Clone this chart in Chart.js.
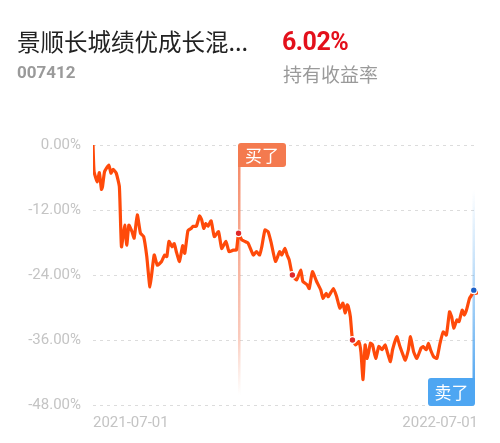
<!DOCTYPE html>
<html>
<head>
<meta charset="utf-8">
<script src="https://cdn.jsdelivr.net/npm/chart.js@4/dist/chart.umd.min.js"></script>
<style>
  html, body { margin: 0; padding: 0; background: #fff; }
  body { width: 500px; height: 443px; position: relative; overflow: hidden; font-family: "Noto Sans CJK SC", "Noto Sans", sans-serif; }
  #wrap { position: absolute; left: 0; top: 0; width: 500px; height: 443px; }
  .t { position: absolute; white-space: nowrap; line-height: 1; }
  #name { left: 17px; top: 30px; font-size: 23.5px; color: #222; }
  #code { left: 17px; top: 64px; font-size: 17px; color: #9a9a9a; font-weight: bold; font-family: Roboto, "Noto Sans", sans-serif; }
  #ret { left: 282px; top: 29px; font-size: 25px; color: #e3101b; font-weight: bold; font-family: Roboto, "Noto Sans", sans-serif; letter-spacing: -0.5px; }
  #retl { left: 283px; top: 64px; font-size: 19px; color: #9a9a9a; }
</style>
</head>
<body>
<div id="wrap"><canvas id="c" width="500" height="443"></canvas></div>
<div class="t" id="name">景顺长城绩优成长混...</div>
<div class="t" id="code">007412</div>
<div class="t" id="ret">6.02%</div>
<div class="t" id="retl">持有收益率</div>
<script>
// ---- data ----
const fundName = "景顺长城绩优成长混...";
const fundCode = "007412";
const xTickLabels = ["2021-07-01", "2022-07-01"];
const xTickDays = [0, 365];
const yTicks = [0, -12, -24, -36, -48];
const days = [0,1,4,6,8,9,11,15,17,19,22,25,27,30,32,34,37,39,42,45,48,51,54,58,61,65,68,70,72,75,77,79,82,85,87,90,93,95,98,101,103,105,107,109,112,115,119,122,126,129,133,136,138,141,144,147,152,155,158,160,163,166,169,173,177,179,182,184,186,189,193,197,199,203,205,208,212,216,218,221,223,228,231,234,237,239,241,242,244,246,249,252,254,256,258,260,263,265,268,271,274,277,279,282,284,288,291,294,296,299,301,304,307,311,313,316,318,320,323,326,329,332,335,338,340,342,345,347,350,352,354,357,359,361,363,365];
const returns = [0,-4.9,-6.8,-5.1,-8.2,-7.7,-4.9,-3.7,-5.2,-4.5,-5.2,-7.7,-18.8,-14.8,-18.5,-14.8,-16.0,-17.2,-12.9,-16.3,-16.9,-20.6,-26.2,-20.3,-22.2,-21.5,-20.3,-20.6,-17.8,-18.8,-18.2,-19.7,-21.5,-18.6,-20.0,-15.8,-15.4,-15.0,-15.0,-13.1,-13.8,-15.4,-14.5,-15.0,-14.0,-16.9,-16.0,-19.1,-17.8,-19.7,-19.4,-19.4,-16.3,-17.5,-17.8,-18.1,-20.3,-19.7,-20.3,-18.8,-15.7,-16.0,-18.1,-21.5,-19.7,-20.3,-19.1,-20.3,-21.2,-24.0,-24.9,-23.1,-25.2,-25.8,-26.5,-23.4,-25.2,-26.8,-28.3,-27.4,-28.0,-26.5,-28.0,-30.1,-29.2,-31.0,-29.5,-29.8,-31.7,-36.0,-36.9,-36.3,-38.2,-43.3,-36.9,-39.4,-36.6,-36.9,-39.4,-37.2,-37.8,-36.9,-38.2,-40.0,-37.8,-35.4,-37.2,-38.8,-39.7,-37.8,-35.4,-38.2,-39.4,-37.5,-37.2,-37.8,-36.6,-37.8,-39.1,-39.4,-36.6,-34.5,-35.1,-30.8,-31.7,-33.8,-32.3,-32.6,-30.5,-31.4,-30.5,-28.3,-27.7,-26.8,-27.4,-27.2];
const markerDays = [138, 189, 246, 361];
const markerValues = [-16.3, -24.0, -36.0, -26.8];
const markerKinds = ["buy", "dot", "dot", "sell"];
const buyLabel = "买了";
const sellLabel = "卖了";

document.getElementById('name').textContent = fundName;
document.getElementById('code').textContent = fundCode;

const series = days.map((d, i) => ({ x: d, y: returns[i] }));
const markers = markerDays.map((d, i) => ({ x: d, y: markerValues[i] }));

function roundRectPath(ctx, x, y, w, h, r) {
  ctx.beginPath();
  ctx.moveTo(x + r[0], y);
  ctx.lineTo(x + w - r[1], y);
  ctx.arcTo(x + w, y, x + w, y + r[1], r[1]);
  ctx.lineTo(x + w, y + h - r[2]);
  ctx.arcTo(x + w, y + h, x + w - r[2], y + h, r[2]);
  ctx.lineTo(x + r[3], y + h);
  ctx.arcTo(x, y + h, x, y + h - r[3], r[3]);
  ctx.lineTo(x, y + r[0]);
  ctx.arcTo(x, y, x + r[0], y, r[0]);
  ctx.closePath();
}

const tradePlugin = {
  id: 'trade',
  beforeDatasetsDraw(chart) {
    const ctx = chart.ctx;
    const xs = chart.scales.x;
    const ca = chart.chartArea;
    markerKinds.forEach((k, i) => {
      const px = Math.round(xs.getPixelForValue(markerDays[i]));
      if (k === 'buy') {
        const top = ca.top + 21, bot = ca.bottom - 10;
        const g = ctx.createLinearGradient(0, top, 0, bot);
        g.addColorStop(0, 'rgba(244,120,80,0.85)');
        g.addColorStop(0.75, 'rgba(244,140,110,0.45)');
        g.addColorStop(1, 'rgba(244,160,130,0)');
        ctx.save();
        ctx.fillStyle = g;
        ctx.fillRect(px - 1, top, 2.5, bot - top);
        ctx.restore();
      } else if (k === 'sell') {
        const top = ca.top + 45, bot = ca.bottom - 26;
        const g = ctx.createLinearGradient(0, top, 0, bot);
        g.addColorStop(0, 'rgba(90,170,240,0)');
        g.addColorStop(0.4, 'rgba(90,170,240,0.35)');
        g.addColorStop(1, 'rgba(80,165,240,0.95)');
        ctx.save();
        ctx.fillStyle = g;
        ctx.fillRect(px - 1.5, top, 2.5, bot - top);
        ctx.restore();
      }
    });
  },
  afterDatasetsDraw(chart) {
    const ctx = chart.ctx;
    const xs = chart.scales.x;
    const ca = chart.chartArea;
    ctx.save();
    ctx.font = '17px "Noto Sans CJK SC", sans-serif';
    ctx.textBaseline = 'middle';
    ctx.textAlign = 'center';
    markerKinds.forEach((k, i) => {
      const px = Math.round(xs.getPixelForValue(markerDays[i]));
      if (k === 'buy') {
        const bx = px - 1, by = ca.top - 2, bw = 48, bh = 24;
        ctx.fillStyle = '#f47a4f';
        roundRectPath(ctx, bx, by, bw, bh, [3, 3, 3, 0]);
        ctx.fill();
        ctx.fillStyle = '#fff';
        ctx.fillText(buyLabel, bx + bw / 2, by + bh / 2 + 1);
      } else if (k === 'sell') {
        const bw = 47, bh = 28;
        const bx = px + 1 - bw, by = ca.bottom - 27;
        ctx.fillStyle = '#4ea6f2';
        roundRectPath(ctx, bx, by, bw, bh, [3, 0, 3, 3]);
        ctx.fill();
        ctx.fillStyle = '#fff';
        ctx.fillText(sellLabel, bx + bw / 2, by + bh / 2 + 1);
      }
    });
    ctx.restore();
  }
};

new Chart(document.getElementById('c'), {
  type: 'scatter',
  data: {
    datasets: [
      {
        type: 'line',
        data: series,
        borderColor: '#ff4a0a',
        borderWidth: 3.2,
        pointRadius: 0,
        tension: 0.15,
        fill: false,
        borderJoinStyle: 'round',
        borderCapStyle: 'round',
        order: 2
      },
      {
        type: 'scatter',
        data: markers,
        pointRadius: 3.3,
        pointBorderWidth: 1.2,
        pointBorderColor: '#ffffff',
        pointBackgroundColor: markerKinds.map(k => k === 'sell' ? '#1a5fc8' : '#e0282a'),
        order: 1
      }
    ]
  },
  options: {
    responsive: false,
    animation: false,
    events: [],
    layout: { padding: { left: 0, right: 22, top: 145, bottom: 0 } },
    plugins: { legend: { display: false }, tooltip: { enabled: false } },
    scales: {
      x: {
        type: 'linear',
        min: xTickDays[0],
        max: xTickDays[xTickDays.length - 1],
        afterBuildTicks(scale) { scale.ticks = xTickDays.map(v => ({ value: v })); },
        afterFit(scale) { scale.height = 38; },
        grid: { display: false, drawTicks: false },
        border: { display: false },
        ticks: {
          align: 'inner',
          maxRotation: 0,
          autoSkip: false,
          padding: 9,
          color: '#c4c4c4',
          font: { size: 15, family: 'Roboto, "Noto Sans", sans-serif' },
          callback(v) { const i = xTickDays.indexOf(v); return i >= 0 ? xTickLabels[i] : ''; }
        }
      },
      y: {
        min: -48,
        max: 0,
        afterBuildTicks(scale) { scale.ticks = yTicks.map(v => ({ value: v })); },
        afterFit(scale) { scale.width = 93; },
        grid: { color: '#dcdcdc', lineWidth: 1, drawTicks: false },
        border: { display: false, dash: [3, 4] },
        ticks: {
          padding: 12,
          color: '#c4c4c4',
          font: { size: 15, family: 'Roboto, "Noto Sans", sans-serif' },
          callback(v) { return v.toFixed(2) + '%'; }
        }
      }
    }
  },
  plugins: [tradePlugin]
});
</script>
</body>
</html>
